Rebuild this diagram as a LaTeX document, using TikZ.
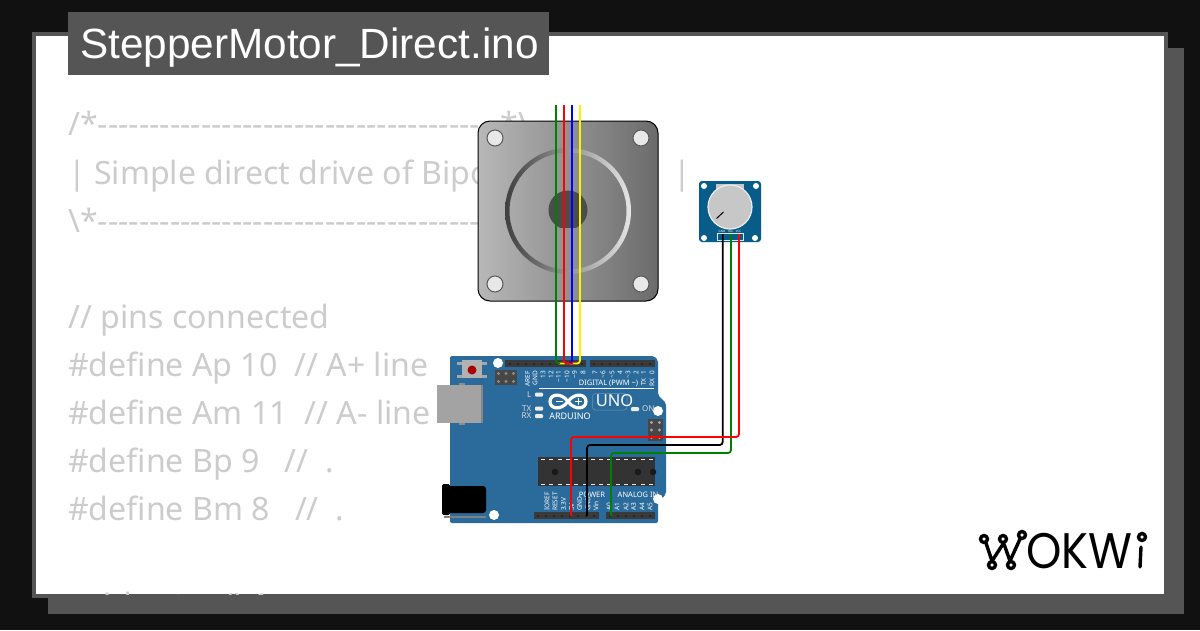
\documentclass[tikz,border=0pt]{standalone}
\usepackage{fontspec}
\usepackage{tikz}
\usetikzlibrary{calc}
\setmainfont{Noto Sans}
\newfontfamily\codefont{Noto Sans}
\newfontfamily\titlefont{Liberation Sans}
\newfontfamily\logofont{Poppins}
\definecolor{pagedark}{HTML}{111111}
\definecolor{framegray}{HTML}{555555}
\definecolor{codegray}{HTML}{CCCCCC}
\definecolor{unoblue}{HTML}{2B6B9B}
\definecolor{potblue}{HTML}{075C8A}
\definecolor{hdrdark}{HTML}{3A3A3A}
\definecolor{wiregreen}{HTML}{008000}
\tikzset{>=stealth,
  codeline/.style={anchor=base west,inner sep=0pt,text=codegray,font=\codefont\fontsize{32.1}{32.1}\selectfont},
  wire/.style={line width=1.8pt,rounded corners=3pt},
  hole/.style={fill=white,draw=none},
  header/.style={fill=hdrdark,draw=none},
  pinlabel/.style={rotate=90,inner sep=0pt,text=white,font=\fontsize{6.5}{6.5}\selectfont\bfseries},
  boardlabel/.style={inner sep=0pt,text=white,font=\fontsize{7.5}{7.5}\selectfont\bfseries},
  ledpad/.style={fill=white!85!gray,draw=none,rounded corners=1pt}
}
\begin{document}
\begin{tikzpicture}[x=1pt,y=-1pt]
  \useasboundingbox (0,0) rectangle (1200,630);
  % page and frame
  \fill[pagedark] (0,0) rectangle (1200,630);
  \fill[framegray] (48,48) rectangle (1184,614);
  \fill[framegray] (32,32) rectangle (1168,598);
  \fill[white] (36,36) rectangle (1164,594);
  % code behind the parts
  \begin{scope}
    \clip (36,36) rectangle (1164,594);
    \node[codeline] (codea) at (68,135) {/*---------------------------------------*\textbackslash};
    \node[codeline] (codeb) at (68,184) {| Simple direct drive of Bipolar Stepper};
    \node[codeline] (codebend) at (673.5,184) {|};
    \node[codeline] (codec) at (68,232) {\textbackslash*----------------------------------------};
    \node[codeline] (coded) at (68,328) {// pins connected};
    \node[codeline] (codee) at (68,376) {\#define Ap 10\ \ // A+ line};
    \node[codeline] (codef) at (68,424) {\#define Am 11\ \ // A- line};
    \node[codeline] (codeg) at (68,472) {\#define Bp 9\ \ \ //\ \ .};
    \node[codeline] (codeh) at (68,520) {\#define Bm 8\ \ \ //\ \ .};
    \node[codeline] (codei) at (68,616) {void setup() \{};
  \end{scope}
  % title
  \fill[framegray] (68,12) rectangle (549,75);
  \node[anchor=base west,inner sep=0pt,text=white,font=\titlefont\fontsize{42.3}{42.3}\selectfont] (title) at (80,58) {StepperMotor\_Direct.ino};
  % stepper motor
  \shade[left color=black!28,right color=black!58,draw=black,line width=1pt,rounded corners=12pt] (478,121) rectangle (658,301);
  \foreach \px/\py in {495/138,641/138,495/284,641/284}
    \filldraw[fill=black!9,draw=black!65,line width=1pt] (\px,\py) circle (8);
  \shade[left color=black!75,right color=black!10,even odd rule] (568,211) circle (63) (568,211) circle (58.5);
  \begin{scope}
    \clip (540,180) rectangle (600,227);
    \fill[black!70] (568,210) circle (19.5);
  \end{scope}
  % arduino board
  \fill[unoblue,rounded corners=2pt] (450,356) -- (654,356) -- (658,360) -- (658,395) -- (666,403) -- (666,494) -- (658,503) -- (658,523) -- (450,523) -- cycle;
  \fill[header] (505,360) rectangle (586,367);
  \fill[header] (590,360) rectangle (655,367);
  \fill[header] (534,512) rectangle (599,519);
  \fill[header] (606,512) rectangle (655,519);
  \foreach \i in {0,...,9} \fill[black!85] (508.5+\i*8,362.5) rectangle +(2.5,2);
  \foreach \i in {0,...,7} \fill[black!85] (592.5+\i*8,362.5) rectangle +(2.5,2);
  \foreach \i in {0,...,7} \fill[black!85] (536.5+\i*8,514.5) rectangle +(2.5,2);
  \foreach \i in {0,...,5} \fill[black!85] (608.5+\i*8,514.5) rectangle +(2.5,2);
  % holes
  \foreach \px/\py in {498/363,494/515,658/411}
    \fill[hole] (\px,\py) circle (5);
  % reset button
  \fill[black!35] (457,362) rectangle (487,365);
  \fill[black!35] (457,375) rectangle (487,378);
  \fill[black!30] (462,360) rectangle (482,378);
  \fill[red!65!black] (472,370) circle (4.5);
  % icsp
  \fill[black!72] (495,370) rectangle (517,385);
  \foreach \px in {498.5,506,513.5} \foreach \py in {373.5,381.5}
    \fill[black!45] (\px,\py) circle (1.7);
  \fill[black!72] (648,419) rectangle (663,441);
  \foreach \px in {651.5,659.5} \foreach \py in {422.5,430,437.5}
    \fill[black!35] (\px,\py) circle (1.7);
  % usb and power jack
  \fill[black!45] (459,383) rectangle (465,425);
  \fill[black!36] (437,385) rectangle (483,423);
  \fill[black!48] (481,385) rectangle (483,423);
  \fill[black!50] (444,516) rectangle (486,517.5);
  \fill[black,rounded corners=1.5pt] (442,484) rectangle (450,515);
  \fill[black,rounded corners=3pt] (448,486) rectangle (486,513);
  % chip
  \fill[black!80] (538,457) rectangle (655,486);
  \foreach \i in {0,...,13} {
    \fill[white!85!gray] (541+\i*8.3,458.5) rectangle +(4,1.3);
    \fill[white!85!gray] (541+\i*8.3,483.5) rectangle +(4,1.3);
  }
  \fill[black!90] (555,472) circle (3.3);
  \fill[black!90] (638,472) circle (3.3);
  \fill[black!90] (653,472) circle (3.3);
  % pin labels
  \foreach \lx/\txt in {527.5/AREF,535/GND,543/13,551/12,558.5/\textasciitilde11,567/\textasciitilde10,574.5/\textasciitilde9,583/8,595/7,603/\textasciitilde6,612/\textasciitilde5,620/4,628/\textasciitilde3,636/2,643.5/TX\ \ 1,652/RX\ \ 0}
    \node[pinlabel,anchor=east] (pin\lx) at (\lx,371) {\txt};
  \foreach \lx/\txt in {547/IOREF,555/RESET,563.5/3.3V,571.5/5V,579.5/GND,588/GND,596/Vin,609/A0,617/A1,626/A2,633.5/A3,642/A4,650/A5}
    \node[pinlabel,anchor=west] (bot\lx) at (\lx,511) {\txt};
  \node[boardlabel] (digital) at (608.5,383.5) {DIGITAL (PWM \textasciitilde)};
  \draw[white,line width=.7pt] (539,388.5) -- (654,388.5);
  \node[boardlabel] (power) at (592,494.5) {POWER};
  \node[boardlabel] (analog) at (638,494.5) {ANALOG IN};
  \fill[hole] (658,499) circle (5);
  % leds
  \foreach \ly/\ltxt in {394.5/L,408.5/TX,416/RX} {
    \fill[ledpad] (535,\ly-2) rectangle +(8,4);
    \node[anchor=east,inner sep=0pt,text=black!15,font=\fontsize{8}{8}\selectfont] (led\ltxt) at (531.5,\ly) {\ltxt};
  }
  \fill[ledpad] (631,407) rectangle +(8,4);
  \node[anchor=west,inner sep=0pt,text=black!15,font=\fontsize{8}{8}\selectfont] (ledon) at (642,409) {ON};
  % arduino logo
  \draw[white,line width=3.2pt] (568,401.5) .. controls (561,392) and (550,394) .. (550,401.5) .. controls (550,409) and (561,411) .. (568,401.5) .. controls (575,392) and (586,394) .. (586,401.5) .. controls (586,409) and (575,411) .. (568,401.5) -- cycle;
  \draw[white,line width=1.4pt] (556,401.5) -- (563,401.5);
  \draw[white,line width=1.4pt] (574.5,401.5) -- (582,401.5) (578.2,398) -- (578.2,405);
  \draw[white!30!unoblue,line width=.5pt,rounded corners=3pt] (592.5,393.5) rectangle (627,410);
  \node[inner sep=0pt,text=white,font=\fontsize{16.5}{16.5}\selectfont] (unotext) at (614.5,401) {UNO};
  \node[inner sep=0pt,text=white,font=\fontsize{9}{9}\selectfont\bfseries] (arduinotext) at (570,416) {ARDUINO};
  % potentiometer
  \fill[potblue,rounded corners=3pt] (699,181) rectangle (761,242);
  \foreach \px/\py in {704/186,756/186,704/238,755/238}
    \fill[hole] (\px,\py) circle (3);
  \fill[black!22] (716,183.5) rectangle (744,195);
  \filldraw[fill=black!22,draw=white!85!gray,line width=1.2pt] (730,207) circle (22);
  \draw[black,line width=1pt] (716.5,218.5) -- (723.5,212);
  \draw[white!80!gray,line width=.7pt] (717.5,233.5) rectangle (743,240);
  \node[inner sep=0pt,text=white,font=\fontsize{3}{3}\selectfont] (potgnd) at (722,231) {GND};
  \node[inner sep=0pt,text=white,font=\fontsize{3}{3}\selectfont] (potsig) at (730.5,231) {SIG};
  \node[inner sep=0pt,text=white,font=\fontsize{3}{3}\selectfont] (potvcc) at (738.5,231) {VCC};
  % wires
  \coordinate (stepg) at (556,105);
  \coordinate (stepr) at (564,105);
  \coordinate (stepb) at (572,105);
  \coordinate (stepy) at (580,105);
  \coordinate (uno11) at (560,363.5);
  \coordinate (uno10) at (573,363.5);
  \coordinate (uno9) at (565,363.5);
  \coordinate (uno8) at (558,363.5);
  \coordinate (potg) at (722.7,234);
  \coordinate (pots) at (731,234);
  \coordinate (potv) at (739,234);
  \coordinate (uno5v) at (571,516);
  \coordinate (unognd) at (587,516);
  \coordinate (unoa0) at (611,516);
  \draw[wire,yellow] (stepy) |- (uno8);
  \draw[wire,wiregreen] (stepg) |- (uno11);
  \draw[wire,blue] (stepb) |- (uno9);
  \draw[wire,red] (stepr) |- (uno10);
  \draw[wire,black] (potg) |- (587,445) -- (unognd);
  \draw[wire,wiregreen] (pots) |- (611,453) -- (unoa0);
  \draw[wire,red] (potv) |- (571,437) -- (uno5v);
  % logo
  \begin{scope}[line width=3.4pt,line cap=round,line join=round]
    \draw (986,543) -- (992,561) -- (1003,544);
    \draw (1004,544) -- (1010,561) -- (1020,539);
    \filldraw[fill=white] (984,539) circle (3.5) (1003,539) circle (3.5) (1022,535) circle (3.5) (992,565) circle (3.5) (1011,565) circle (3.5);
    \draw (1141,547) -- (1140,567);
    \filldraw[fill=white] (1142,537) circle (3.5);
  \end{scope}
  \node[anchor=base west,inner sep=0pt,xscale=.9,font=\logofont\fontsize{50}{50}\selectfont] (wokwi) at (1026,568) {OKW};
\end{tikzpicture}
\end{document}
